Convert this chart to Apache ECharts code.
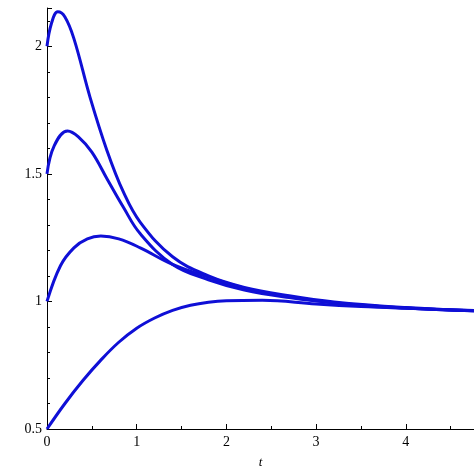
<!DOCTYPE html>
<html>
<head>
<meta charset="utf-8">
<script src="https://cdn.jsdelivr.net/npm/echarts@6/dist/echarts.min.js"></script>
</head>
<body style="margin:0;background:#fff">
<div id="main" style="width:474px;height:474px"></div>
<script>
// values
var c1 = [[0,2.0],[0.05,2.09],[0.12,2.135],[0.2,2.115],[0.3,2.03],[0.48,1.80],[0.67,1.59],[0.85,1.43],[1.04,1.31],[1.4,1.175],[1.8,1.1],[2.2,1.055],[2.7,1.022],[3.2,0.998],[4.0,0.976],[4.76,0.963]];
var c2 = [[0,1.5],[0.08,1.61],[0.23,1.668],[0.35,1.645],[0.5,1.585],[0.67,1.48],[0.85,1.37],[1.04,1.265],[1.4,1.145],[1.8,1.085],[2.2,1.045],[2.7,1.015],[3.2,0.994],[4.0,0.974],[4.76,0.963]];
var c3 = [[0,1.0],[0.15,1.14],[0.3,1.21],[0.45,1.245],[0.6,1.256],[0.8,1.245],[1.04,1.21],[1.4,1.145],[1.8,1.095],[2.2,1.052],[2.7,1.018],[3.2,0.995],[4.0,0.974],[4.76,0.963]];
var c4 = [[0,0.5],[0.2,0.60],[0.4,0.69],[0.6,0.77],[0.8,0.84],[1.0,0.895],[1.2,0.935],[1.4,0.965],[1.6,0.985],[1.8,0.997],[2.0,1.003],[2.4,1.005],[3.0,0.99],[3.5,0.98],[4.0,0.973],[4.76,0.964]];
var curves = [c1, c2, c3, c4];

var chart = echarts.init(document.getElementById('main'));
chart.setOption({
  animation: false,
  grid: {left: 47, right: 0, top: 8, bottom: 42},
  xAxis: {
    type: 'value', min: 0, max: 4.76, interval: 1,
    axisLine: {lineStyle: {color: '#000'}},
    axisTick: {inside: true, length: 5, lineStyle: {color: '#000'}},
    minorTick: {show: true, splitNumber: 2, length: 3, lineStyle: {color: '#000'}},
    axisLabel: {color: '#000', fontFamily: 'Liberation Serif', fontSize: 14, margin: 6, showMaxLabel: false},
    splitLine: {show: false},
    name: 't', nameLocation: 'middle', nameGap: 27,
    nameTextStyle: {color: '#000', fontFamily: 'Liberation Serif', fontStyle: 'italic', fontSize: 13}
  },
  yAxis: {
    type: 'value', min: 0.5, max: 2.15, interval: 0.5,
    axisLine: {show: true, lineStyle: {color: '#000'}},
    axisTick: {inside: true, length: 5, lineStyle: {color: '#000'}},
    minorTick: {show: true, splitNumber: 5, length: 3, lineStyle: {color: '#000'}},
    axisLabel: {color: '#000', fontFamily: 'Liberation Serif', fontSize: 14, margin: 5, showMaxLabel: false},
    splitLine: {show: false}
  },
  series: curves.map(function (d) {
    return {type: 'line', data: d, smooth: 0.4, symbol: 'none',
      lineStyle: {color: '#0f0fd6', width: 3}};
  })
});
</script>
</body>
</html>
